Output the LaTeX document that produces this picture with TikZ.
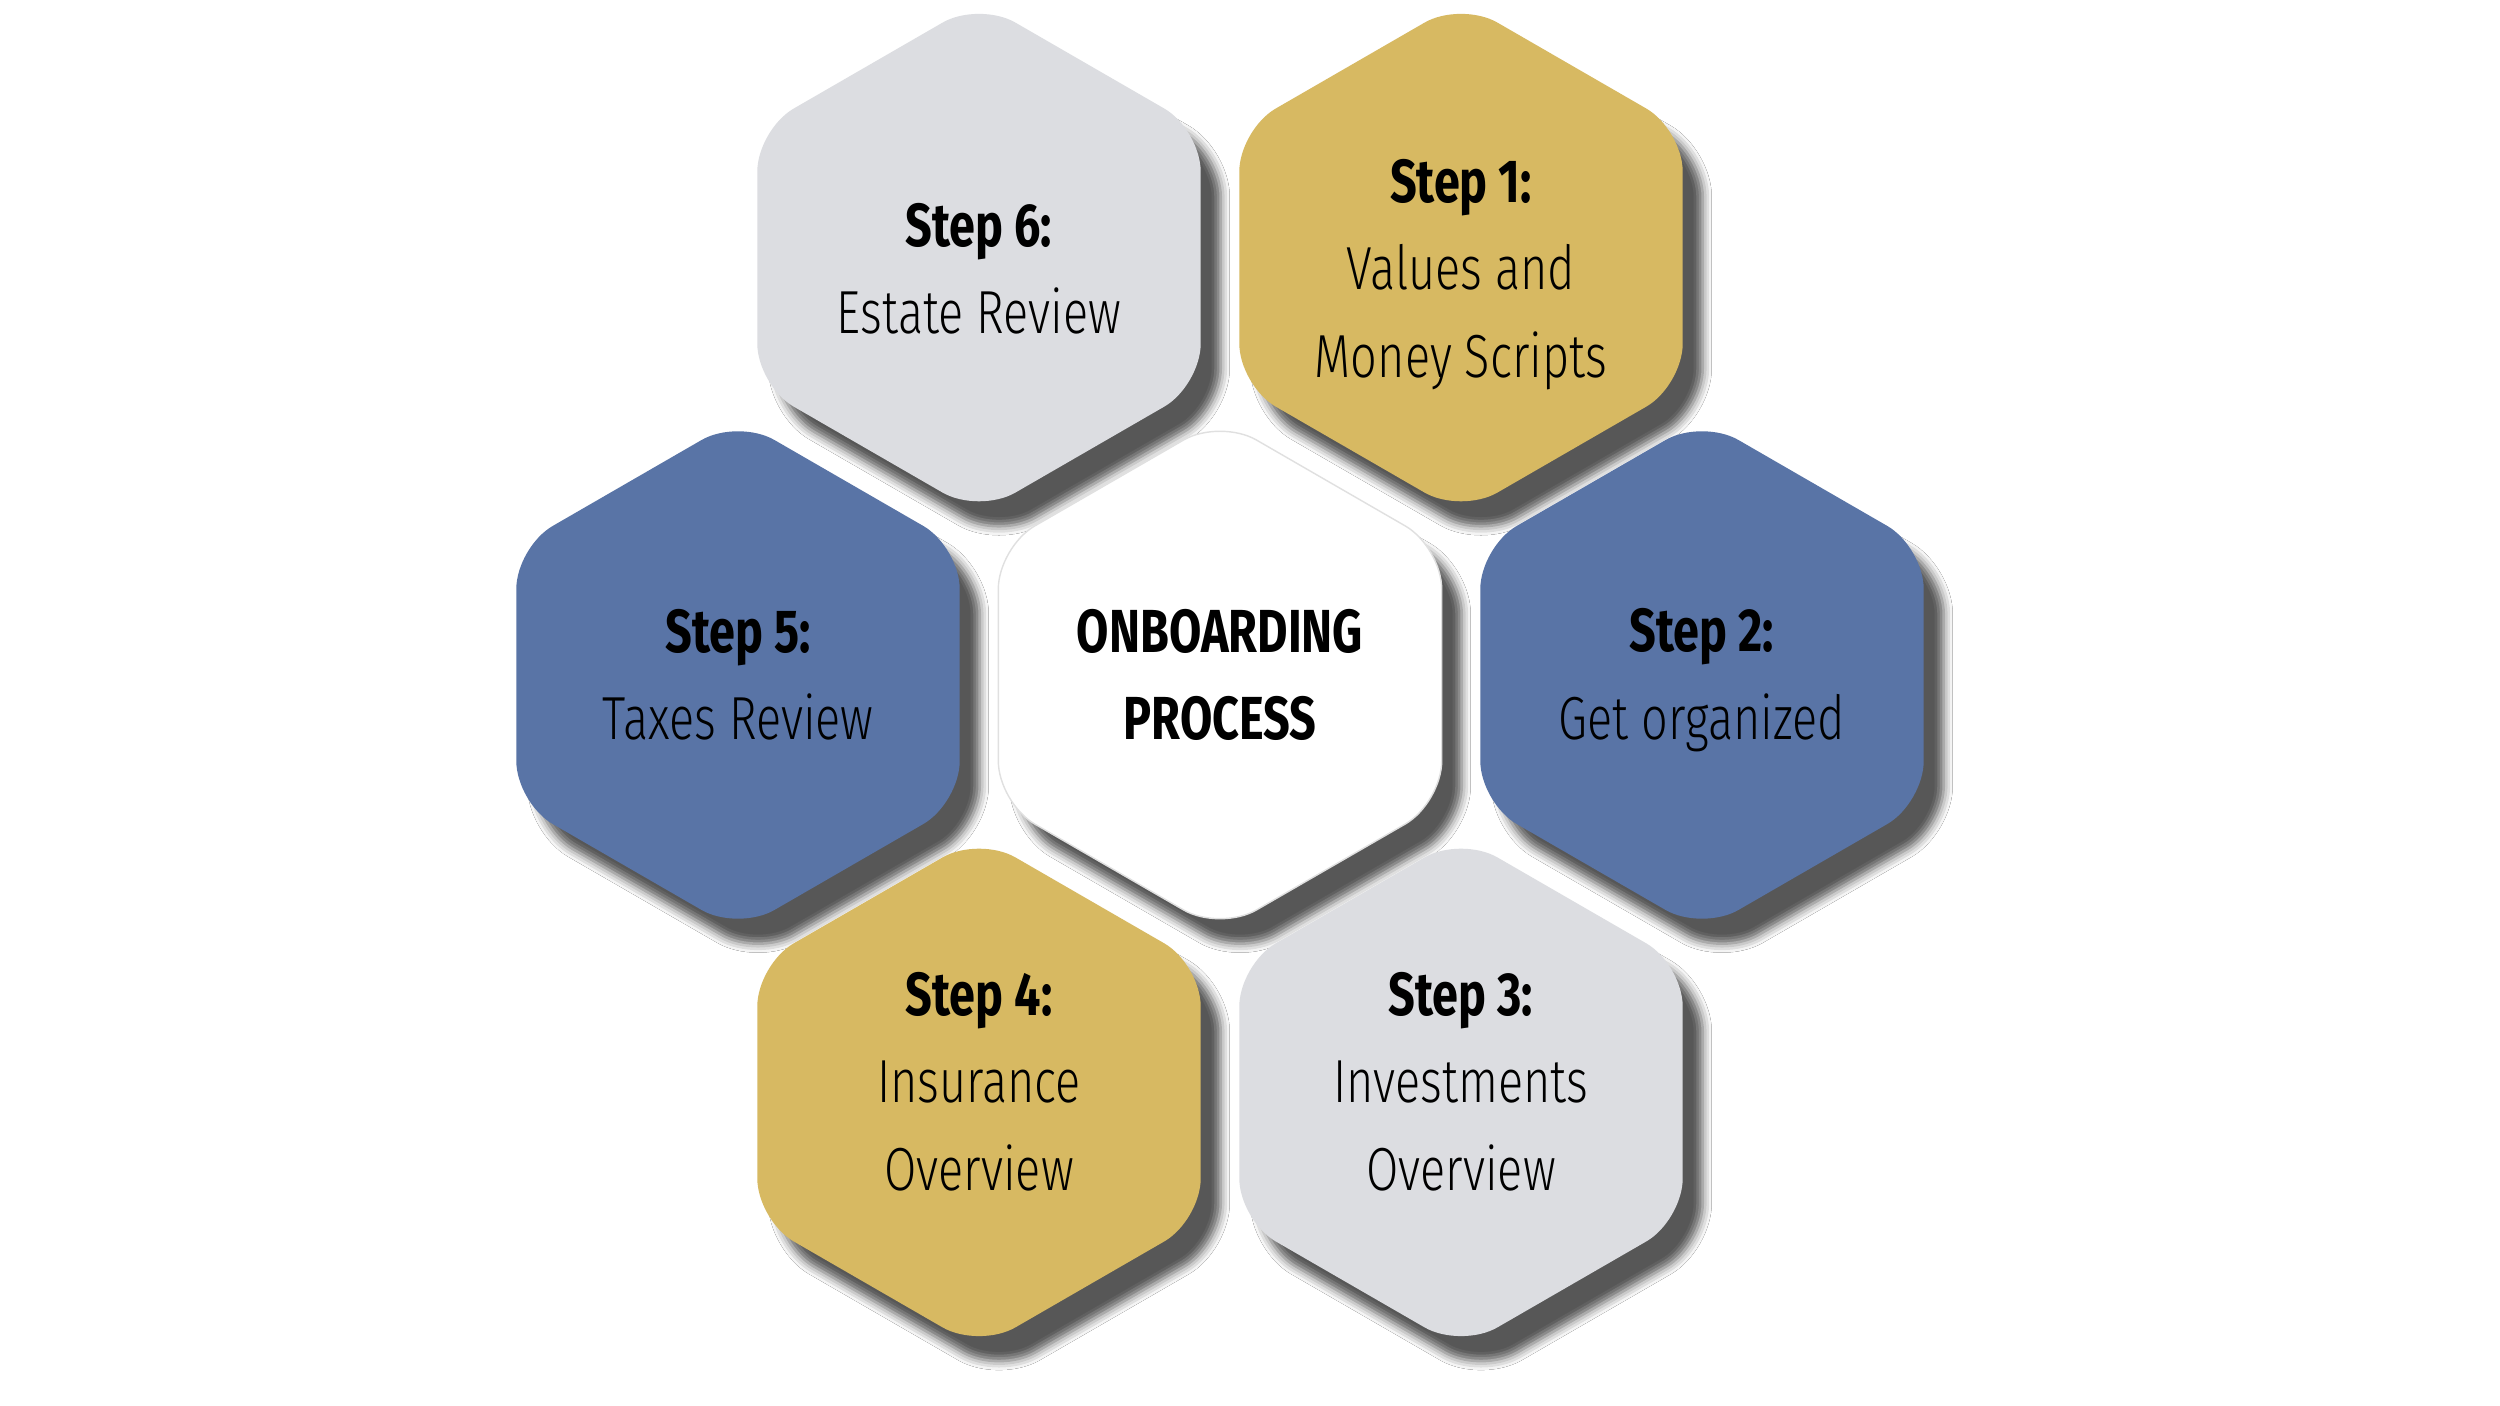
\documentclass[tikz,border=0pt]{standalone}
\usepackage{fontspec}
\setmainfont{Fira Sans}[FakeStretch=0.77, UprightFont=* Light, BoldFont=* Bold]
\usetikzlibrary{shapes.geometric,shadows.blur}

\definecolor{hexgold}{RGB}{215,185,98}
\definecolor{hexblue}{RGB}{89,116,166}
\definecolor{hexgrey}{RGB}{220,221,225}

\newcommand{\stepno}[1]{\textbf{Step #1:}}

\begin{document}
\begin{tikzpicture}[every node/.style={font=\fontsize{17.3}{24.9}\selectfont, align=center},
  hexa/.style={regular polygon, regular polygon sides=6, shape border rotate=30,
    minimum size=5.12cm, inner sep=0pt, rounded corners=0.42cm,
    blur shadow={shadow xshift=0.2cm, shadow yshift=-0.25cm,
      shadow blur radius=0.09cm, shadow opacity=66}},
  hubhex/.style={hexa, fill=white, draw=black!12, line width=0.4pt},
  hextext/.style={inner sep=0pt}
]
  % Rahmen
  \useasboundingbox (0,0) rectangle (25,14.06);
  \fill[white] (0,0) rectangle (25,14.06);

  % Mittelpunkte
  \coordinate (c0) at (12.20,7.31);
  \coordinate (c1) at (14.61,11.484);
  \coordinate (c2) at (17.02,7.31);
  \coordinate (c3) at (14.61,3.136);
  \coordinate (c4) at (9.79,3.136);
  \coordinate (c5) at (7.38,7.31);
  \coordinate (c6) at (9.79,11.484);

  % Waben
  \node[hexa, fill=hexgrey] (step6) at (c6) {};
  \node[hexa, fill=hexgold] (step1) at (c1) {};
  \node[hexa, fill=hexblue] (step5) at (c5) {};
  \node[hubhex] (onboard) at (c0) {};
  \node[hexa, fill=hexblue] (step2) at (c2) {};
  \node[hexa, fill=hexgold] (step4) at (c4) {};
  \node[hexa, fill=hexgrey] (step3) at (c3) {};

  % Texte
  \node[hextext, yshift=-0.11cm] (t6) at (step6) {\stepno{6}\\Estate Review};
  \node[hextext, yshift=-0.17cm] (t1) at (step1) {\stepno{1}\\Values and\\Money Scripts};
  \node[hextext] (t5) at (step5) {\stepno{5}\\Taxes Review};
  \node[hextext] (t0) at (onboard) {\textbf{ONBOARDING}\\\textbf{PROCESS}};
  \node[hextext, yshift=-0.05cm] (t2) at (step2) {\stepno{2}\\Get organized};
  \node[hextext, yshift=0.11cm] (t4) at (step4) {\stepno{4}\\Insurance\\Overview};
  \node[hextext, yshift=0.11cm] (t3) at (step3) {\stepno{3}\\Investments\\Overview};
\end{tikzpicture}
\end{document}
